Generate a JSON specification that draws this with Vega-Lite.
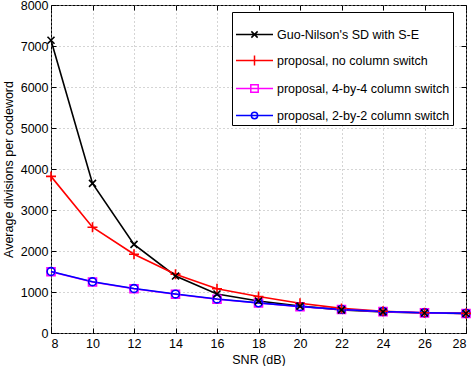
{
  "$schema": "https://vega.github.io/schema/vega-lite/v6.json",
  "autosize": "none",
  "width": 415,
  "height": 328,
  "padding": {"left": 51, "top": 5, "right": 8, "bottom": 33},
  "config": {
    "view": {"stroke": "black", "strokeWidth": 1},
    "font": "Liberation Sans",
    "axis": {
      "domain": false,
      "labelFont": "Liberation Sans",
      "labelFontSize": 12.5,
      "labelColor": "black",
      "titleFont": "Liberation Sans",
      "titleFontSize": 12.5,
      "titleFontWeight": "normal",
      "titleColor": "black",
      "tickColor": "black",
      "tickSize": -5,
      "gridColor": "#aaaaaa",
      "gridDash": [1, 3],
      "gridOpacity": 1
    }
  },
  "data": {"values": [
    {"snr": 8, "series": "Guo-Nilson's SD with S-E", "value": 7140},
    {"snr": 10, "series": "Guo-Nilson's SD with S-E", "value": 3650},
    {"snr": 12, "series": "Guo-Nilson's SD with S-E", "value": 2160},
    {"snr": 14, "series": "Guo-Nilson's SD with S-E", "value": 1390},
    {"snr": 16, "series": "Guo-Nilson's SD with S-E", "value": 950},
    {"snr": 18, "series": "Guo-Nilson's SD with S-E", "value": 780},
    {"snr": 20, "series": "Guo-Nilson's SD with S-E", "value": 655},
    {"snr": 22, "series": "Guo-Nilson's SD with S-E", "value": 565},
    {"snr": 24, "series": "Guo-Nilson's SD with S-E", "value": 515},
    {"snr": 26, "series": "Guo-Nilson's SD with S-E", "value": 488},
    {"snr": 28, "series": "Guo-Nilson's SD with S-E", "value": 475},
    {"snr": 8, "series": "proposal, no column switch", "value": 3820},
    {"snr": 10, "series": "proposal, no column switch", "value": 2580},
    {"snr": 12, "series": "proposal, no column switch", "value": 1920},
    {"snr": 14, "series": "proposal, no column switch", "value": 1435},
    {"snr": 16, "series": "proposal, no column switch", "value": 1080},
    {"snr": 18, "series": "proposal, no column switch", "value": 890},
    {"snr": 20, "series": "proposal, no column switch", "value": 726},
    {"snr": 22, "series": "proposal, no column switch", "value": 600},
    {"snr": 24, "series": "proposal, no column switch", "value": 530},
    {"snr": 26, "series": "proposal, no column switch", "value": 495},
    {"snr": 28, "series": "proposal, no column switch", "value": 478},
    {"snr": 8, "series": "proposal, 4-by-4 column switch", "value": 1495},
    {"snr": 10, "series": "proposal, 4-by-4 column switch", "value": 1245},
    {"snr": 12, "series": "proposal, 4-by-4 column switch", "value": 1080},
    {"snr": 14, "series": "proposal, 4-by-4 column switch", "value": 945},
    {"snr": 16, "series": "proposal, 4-by-4 column switch", "value": 825},
    {"snr": 18, "series": "proposal, 4-by-4 column switch", "value": 730},
    {"snr": 20, "series": "proposal, 4-by-4 column switch", "value": 640},
    {"snr": 22, "series": "proposal, 4-by-4 column switch", "value": 572},
    {"snr": 24, "series": "proposal, 4-by-4 column switch", "value": 522},
    {"snr": 26, "series": "proposal, 4-by-4 column switch", "value": 492},
    {"snr": 28, "series": "proposal, 4-by-4 column switch", "value": 477},
    {"snr": 8, "series": "proposal, 2-by-2 column switch", "value": 1500},
    {"snr": 10, "series": "proposal, 2-by-2 column switch", "value": 1250},
    {"snr": 12, "series": "proposal, 2-by-2 column switch", "value": 1085},
    {"snr": 14, "series": "proposal, 2-by-2 column switch", "value": 950},
    {"snr": 16, "series": "proposal, 2-by-2 column switch", "value": 830},
    {"snr": 18, "series": "proposal, 2-by-2 column switch", "value": 735},
    {"snr": 20, "series": "proposal, 2-by-2 column switch", "value": 645},
    {"snr": 22, "series": "proposal, 2-by-2 column switch", "value": 575},
    {"snr": 24, "series": "proposal, 2-by-2 column switch", "value": 525},
    {"snr": 26, "series": "proposal, 2-by-2 column switch", "value": 494},
    {"snr": 28, "series": "proposal, 2-by-2 column switch", "value": 478}
  ]},
  "resolve": {"axis": {"x": "independent", "y": "independent"}},
  "layer": [
    {
      "mark": {"type": "point", "filled": false, "opacity": 0, "strokeWidth": 1.5},
      "encoding": {
        "x": {"field": "snr", "type": "quantitative",
              "axis": {"orient": "top", "values": [8,10,12,14,16,18,20,22,24,26,28], "labels": false, "grid": false, "title": null}},
        "y": {"field": "value", "type": "quantitative",
              "axis": {"orient": "right", "values": [0,1000,2000,3000,4000,5000,6000,7000,8000], "labels": false, "grid": false, "title": null}},
        "color": {"field": "series", "type": "nominal",
                  "legend": {
                    "orient": "none", "legendX": 181, "legendY": 7, "title": null,
                    "strokeColor": "black", "fillColor": "white", "padding": 3, "cornerRadius": 0,
                    "labelFont": "Liberation Sans", "labelFontSize": 12.5, "labelColor": "black", "labelLimit": 400,
                    "labelOffset": 3, "rowPadding": -13, "symbolSize": 1369, "symbolStrokeWidth": 1.5, "symbolOpacity": 1}},
        "shape": {"field": "series", "type": "nominal",
                  "scale": {"domain": ["Guo-Nilson's SD with S-E", "proposal, no column switch", "proposal, 4-by-4 column switch", "proposal, 2-by-2 column switch"],
                            "range": ["M-1,0L1,0M-0.17,-0.17L0.17,0.17M-0.17,0.17L0.17,-0.17", "M-1,0L1,0M0,-0.27L0,0.27", "M-1,0L1,0M-0.2,-0.2L0.2,-0.2L0.2,0.2L-0.2,0.2Z", "M-1,0L1,0M-0.17,0A0.17,0.17 0 1,0 0.17,0A0.17,0.17 0 1,0 -0.17,0"]},
                  "legend": {
                    "orient": "none", "legendX": 181, "legendY": 7, "title": null,
                    "strokeColor": "black", "fillColor": "white", "padding": 3, "cornerRadius": 0,
                    "labelFont": "Liberation Sans", "labelFontSize": 12.5, "labelColor": "black", "labelLimit": 400,
                    "labelOffset": 3, "rowPadding": -13, "symbolSize": 1369, "symbolStrokeWidth": 1.5, "symbolOpacity": 1}}
      }
    },
    {
      "mark": {"type": "line", "strokeWidth": 1.6},
      "encoding": {
        "x": {"field": "snr", "type": "quantitative",
              "scale": {"domain": [8, 28], "nice": false, "zero": false},
              "axis": {"orient": "bottom", "values": [8,10,12,14,16,18,20,22,24,26,28], "grid": true, "title": "SNR (dB)", "labelPadding": 9, "titlePadding": 4}},
        "y": {"field": "value", "type": "quantitative",
              "scale": {"domain": [0, 8000], "nice": false},
              "axis": {"orient": "left", "values": [0,1000,2000,3000,4000,5000,6000,7000,8000], "grid": true, "format": "d", "title": "Average divisions per codeword", "labelPadding": 8, "titlePadding": 5}},
        "color": {"field": "series", "type": "nominal",
                  "scale": {"domain": ["Guo-Nilson's SD with S-E", "proposal, no column switch", "proposal, 4-by-4 column switch", "proposal, 2-by-2 column switch"],
                            "range": ["#000000", "#ff0000", "#ff00ff", "#0000ff"]},
                  "legend": null}
      }
    },
    {
      "transform": [{"filter": "datum.series == 'proposal, 4-by-4 column switch'"}],
      "mark": {"type": "point", "filled": false, "strokeWidth": 1.6, "opacity": 1, "shape": "square", "size": 64},
      "encoding": {
        "x": {"field": "snr", "type": "quantitative", "axis": null},
        "y": {"field": "value", "type": "quantitative", "axis": null},
        "color": {"field": "series", "type": "nominal", "legend": null}
      }
    },
    {
      "transform": [{"filter": "datum.series == 'proposal, 2-by-2 column switch'"}],
      "mark": {"type": "point", "filled": false, "strokeWidth": 1.6, "opacity": 1, "shape": "circle", "size": 60},
      "encoding": {
        "x": {"field": "snr", "type": "quantitative", "axis": null},
        "y": {"field": "value", "type": "quantitative", "axis": null},
        "color": {"field": "series", "type": "nominal", "legend": null}
      }
    },
    {
      "transform": [{"filter": "datum.series == 'proposal, no column switch'"}],
      "mark": {"type": "point", "filled": false, "strokeWidth": 1.6, "opacity": 1, "shape": "M-1,0L1,0M0,-1L0,1", "size": 100},
      "encoding": {
        "x": {"field": "snr", "type": "quantitative", "axis": null},
        "y": {"field": "value", "type": "quantitative", "axis": null},
        "color": {"field": "series", "type": "nominal", "legend": null}
      }
    },
    {
      "transform": [{"filter": "datum.series == \"Guo-Nilson's SD with S-E\""}],
      "mark": {"type": "point", "filled": false, "strokeWidth": 1.6, "opacity": 1, "shape": "M-1,-1L1,1M-1,1L1,-1", "size": 49},
      "encoding": {
        "x": {"field": "snr", "type": "quantitative", "axis": null},
        "y": {"field": "value", "type": "quantitative", "axis": null},
        "color": {"field": "series", "type": "nominal", "legend": null}
      }
    }
  ]
}
